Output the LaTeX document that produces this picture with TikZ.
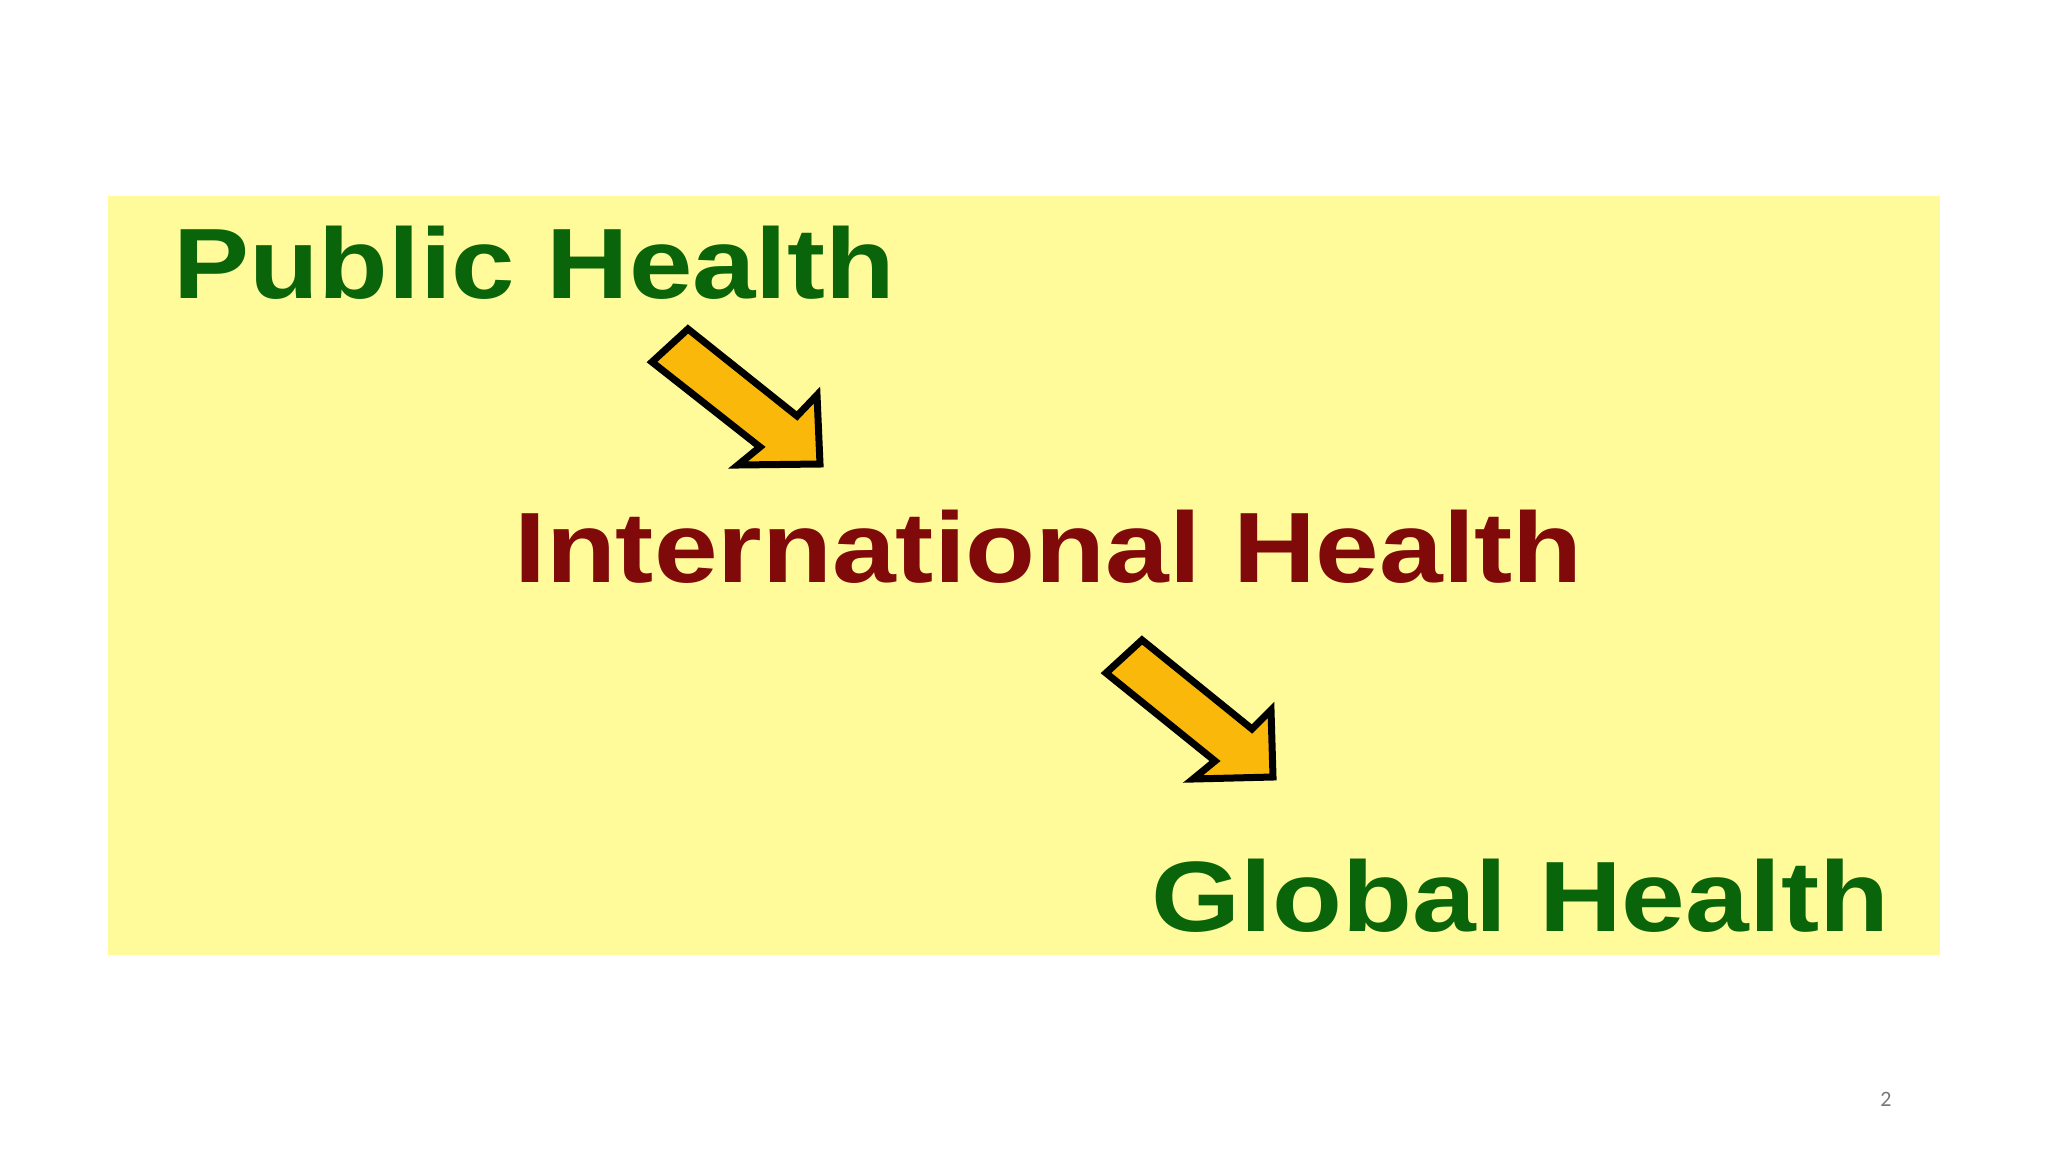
\documentclass[tikz,border=0pt]{standalone}
\usepackage{fontspec}
\setmainfont{Liberation Sans}
\newfontfamily\numfont{Carlito}
\definecolor{bgyellow}{RGB}{255,251,155}
\definecolor{txtgreen}{RGB}{10,100,10}
\definecolor{txtmaroon}{RGB}{128,10,10}
\definecolor{arrowgold}{RGB}{250,185,10}
\definecolor{numgray}{RGB}{120,120,120}
\begin{document}
\begin{tikzpicture}[x=1pt,y=-1pt,
  bigtext/.style={anchor=base west,inner sep=0pt,font=\fontsize{100}{110}\selectfont\bfseries},
  fatarrow/.style={draw=black,line width=7pt,line join=miter,fill=arrowgold}]
\useasboundingbox (0,0) rectangle (2048,1152);
\fill[white] (0,0) rectangle (2048,1152);
\fill[bgyellow] (108,196) rectangle (1940,955);
\node[bigtext,text=txtgreen] (pub) at (173,298) {\scalebox{1.14}[1]{Public Health}};
\node[bigtext,text=txtmaroon] (intl) at (514,582) {\scalebox{1.145}[1]{International Health}};
\node[bigtext,text=txtgreen] (glob) at (1151,931) {\scalebox{1.145}[1]{Global Health}};
\draw[fatarrow] (688,329) -- (652,362) -- (760,447) -- (738,465) -- (820,464) -- (817,395) -- (797,416) -- cycle;
\draw[fatarrow] (1142,640) -- (1106,673) -- (1215,761) -- (1193,779) -- (1273,777) -- (1271,710) -- (1252,729) -- cycle;
\node[anchor=base,inner sep=0pt,text=numgray,font=\numfont\fontsize{22}{26}\selectfont] (pg) at (1886,1106) {2};
\end{tikzpicture}
\end{document}
